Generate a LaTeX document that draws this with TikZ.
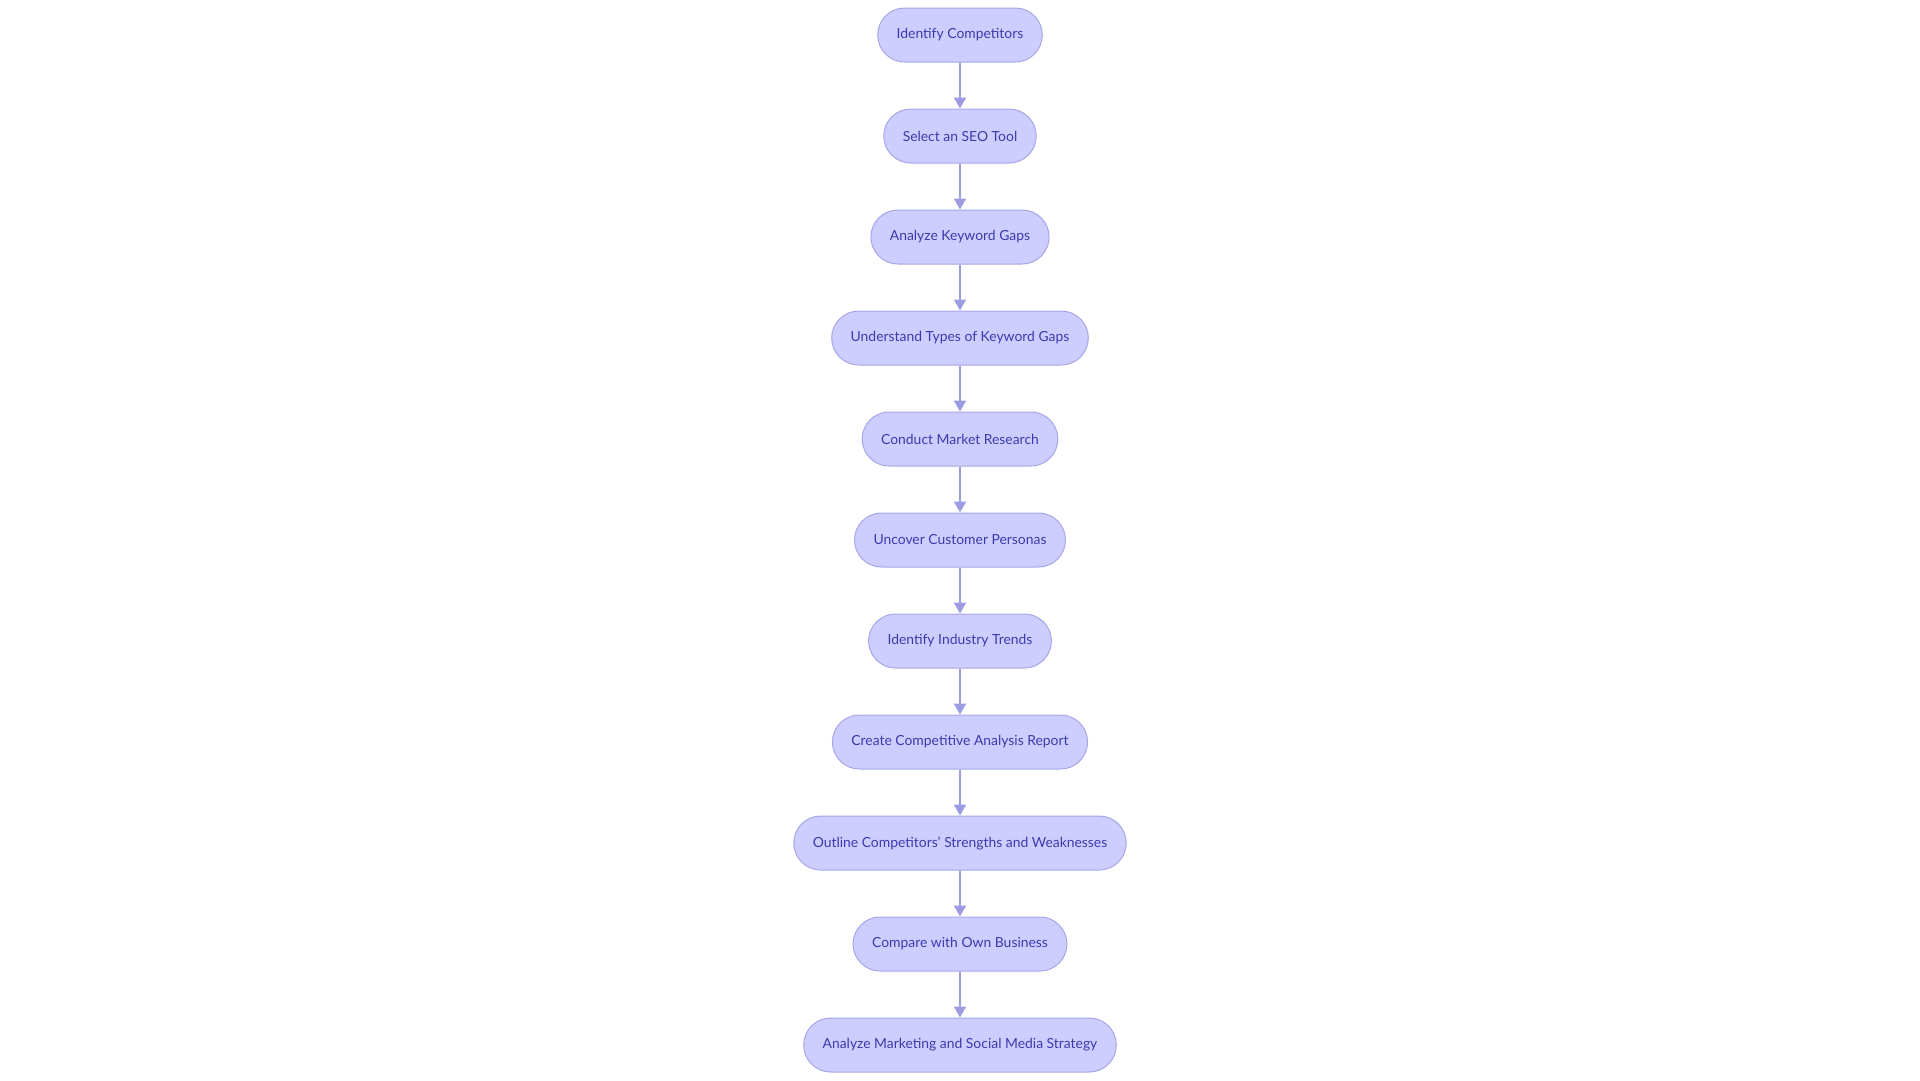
\documentclass[tikz,border=0pt]{standalone}
\usepackage{fontspec}
\setmainfont{Lato}
\usetikzlibrary{positioning}
\usetikzlibrary{arrows.meta}
\definecolor{stepfill}{HTML}{CDCDFF}
\definecolor{stepline}{HTML}{A6A6E8}
\definecolor{steptext}{HTML}{3B3BAE}
\definecolor{flowline}{HTML}{9C9CE2}

\begin{document}
\begin{tikzpicture}[x=1pt,y=1pt,node distance=101pt,on grid,
    stepbox/.style={draw=stepline,fill=stepfill,line width=1pt,rounded corners=27pt,
      minimum height=54pt,inner xsep=19pt,text=steptext,font=\fontsize{13.9}{16}\selectfont},
    flow/.style={-{Triangle[width=12pt,length=11pt]},draw=flowline,line width=2pt}]
   \useasboundingbox (0,0) rectangle (1920,-1080);
   \node[stepbox] (s1) at (960,-35) {Identify Competitors};
   \node[stepbox] (s2) [below=of s1] {Select an SEO Tool};
   \node[stepbox] (s3) [below=of s2] {Analyze Keyword Gaps};
   \node[stepbox] (s4) [below=of s3] {Understand Types of Keyword Gaps};
   \node[stepbox] (s5) [below=of s4] {Conduct Market Research};
   \node[stepbox] (s6) [below=of s5] {Uncover Customer Personas};
   \node[stepbox] (s7) [below=of s6] {Identify Industry Trends};
   \node[stepbox] (s8) [below=of s7] {Create Competitive Analysis Report};
   \node[stepbox] (s9) [below=of s8] {Outline Competitors' Strengths and Weaknesses};
   \node[stepbox] (s10) [below=of s9] {Compare with Own Business};
   \node[stepbox] (s11) [below=of s10] {Analyze Marketing and Social Media Strategy};
    \foreach \a/\b in {s1/s2,s2/s3,s3/s4,s4/s5,s5/s6,s6/s7,s7/s8,s8/s9,s9/s10,s10/s11}
      \draw[flow] (\a) -- (\b);
\end{tikzpicture}
\end{document}
